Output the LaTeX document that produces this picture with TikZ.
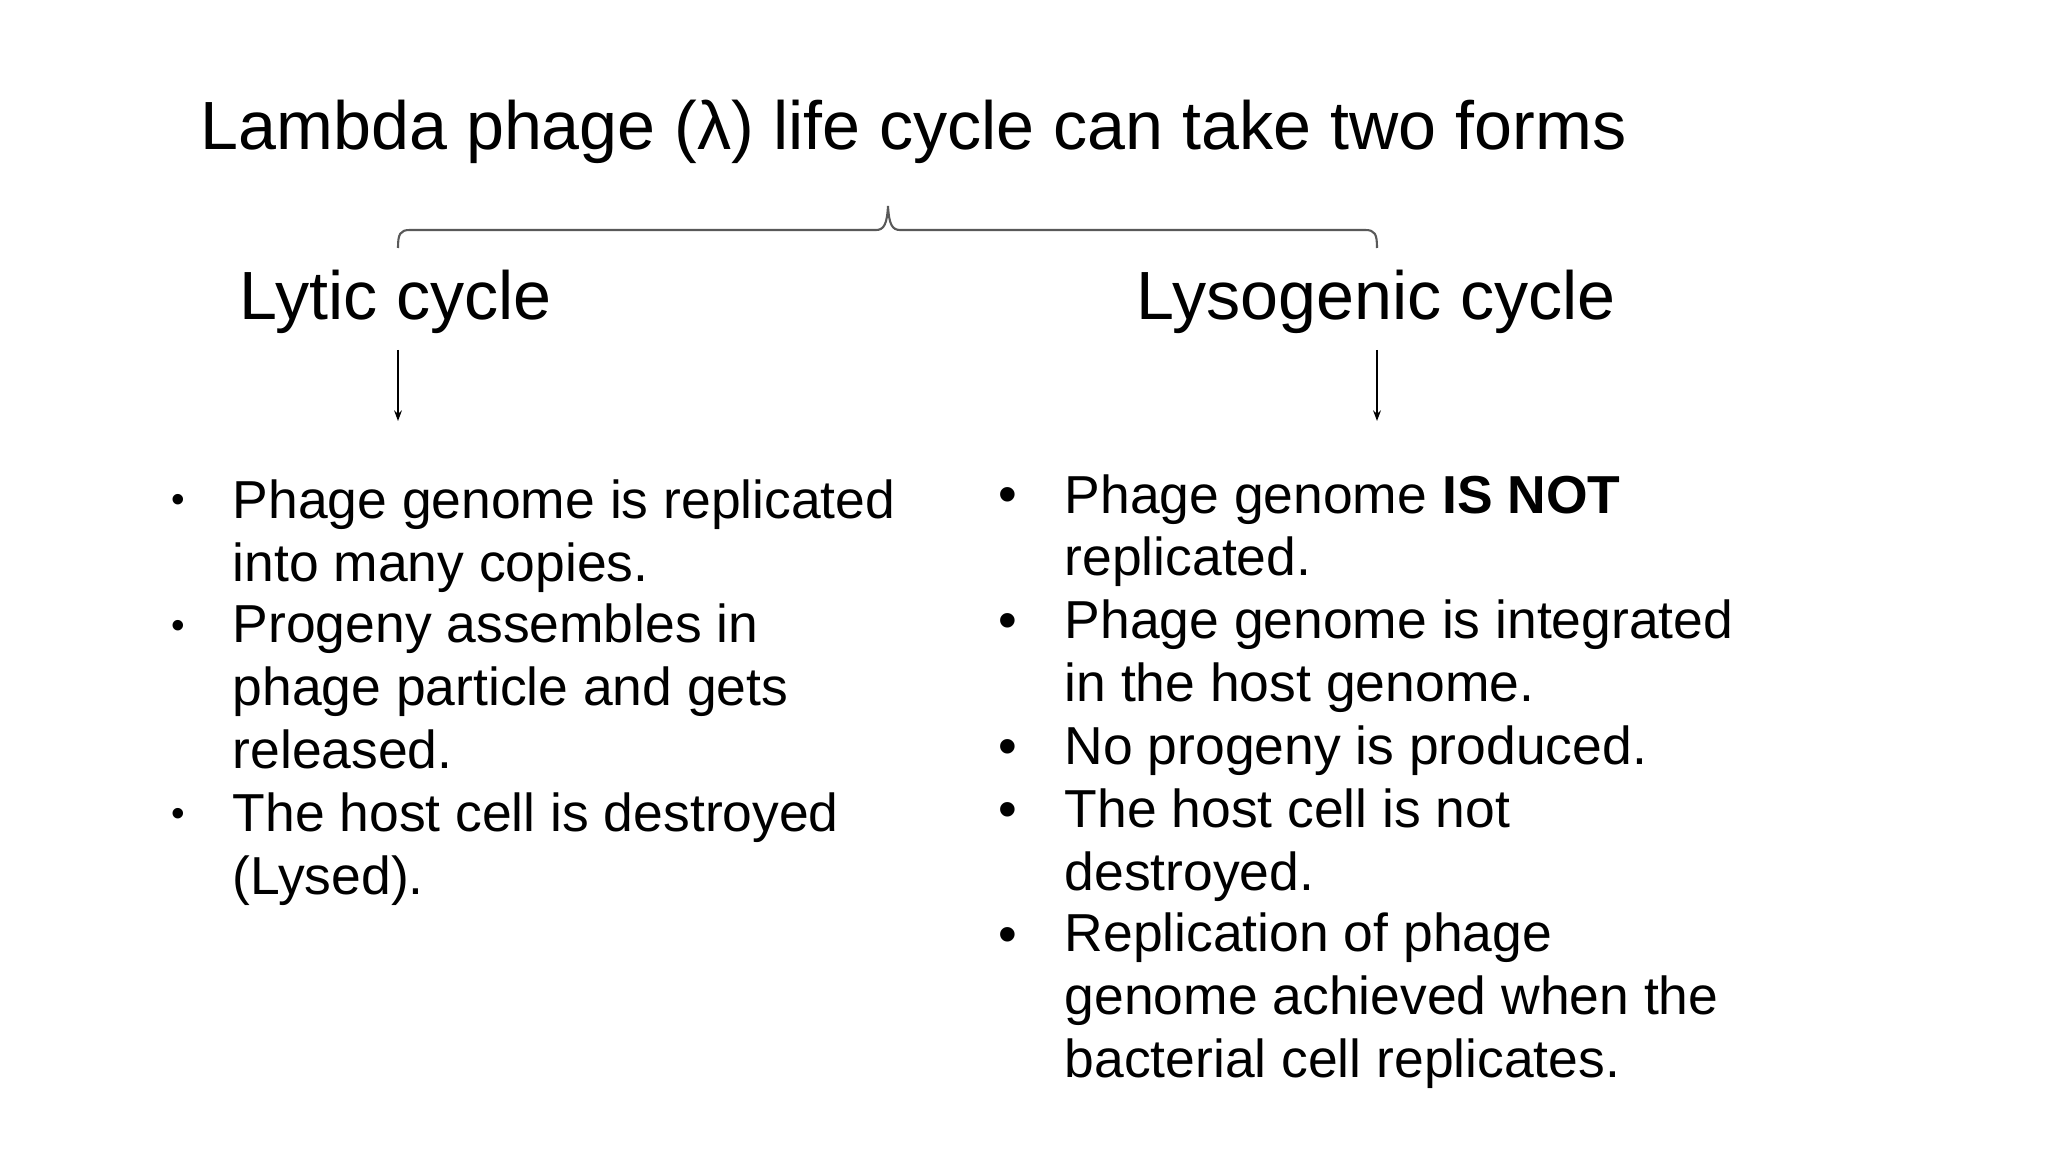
\documentclass[tikz,border=0pt]{standalone}
\usepackage{fontspec}
\setmainfont{Liberation Sans}
\usetikzlibrary{positioning, arrows.meta}

\begin{document}
\begin{tikzpicture}[
    x=0.01cm, y=-0.01cm,
    heading/.style={font=\fontsize{19.4}{23}\selectfont, anchor=base west, inner sep=0pt},
    point/.style={font=\fontsize{15.2}{17.84}\selectfont, align=left, anchor=base west, inner sep=0pt},
    dot/.style={font=\fontsize{15.2}{17.84}\selectfont, anchor=base, inner sep=0pt},
    smalldot/.style={font=\fontsize{11}{13}\selectfont, anchor=base, inner sep=0pt},
    down/.style={-{Stealth[length=3pt, width=2.2pt]}, line width=0.5pt},
    split/.style={black!65, line width=0.6pt}
]
\useasboundingbox (0,0) rectangle (2048,1152);

% headings
\node[heading] (title) at (200,150) {Lambda phage (λ) life cycle can take two forms};
\node[heading] (lytic) at (239,320) {Lytic cycle};
\node[heading] (lyso) at (1136,320) {Lysogenic cycle};

% brace and arrows
\coordinate (braceL) at (398,248);
\coordinate (braceR) at (1377,248);
\draw[split] (braceL) .. controls (398,234) and (400,230) .. (410,230) -- (876,230)
    .. controls (884,230) and (887,224) .. (888,206)
    .. controls (889,224) and (892,230) .. (900,230) -- (1365,230)
    .. controls (1375,230) and (1377,234) .. (braceR);

\coordinate (lytA) at (398,350);
\coordinate (lytB) at (398,421);
\coordinate (lysA) at (1377,350);
\coordinate (lysB) at (1377,421);
\draw[down] (lytA) -- (lytB);
\draw[down] (lysA) -- (lysB);

% lytic list (nodes sit on the baseline of their last line)
\node[smalldot] (lb1) at (178,513) {•};
\node[point] (l1) at (232,581) {Phage genome is replicated\\into many copies.};
\node[smalldot] (lb2) at (178,638) {•};
\node[point] (l2) at (232,768) {Progeny assembles in\\phage particle and gets\\released.};
\node[smalldot] (lb3) at (178,826) {•};
\node[point] (l3) at (232,894) {The host cell is destroyed\\(Lysed).};

% lysogenic list
\node[dot] (rb1) at (1008,513) {•};
\node[point] (r1) at (1064,576) {Phage genome \textbf{IS NOT}\\replicated.};
\node[dot] (rb2) at (1008,638) {•};
\node[point] (r2) at (1064,701) {Phage genome is integrated\\in the host genome.};
\node[dot] (rb3) at (1008,764) {•};
\node[point] (r3) at (1064,764) {No progeny is produced.};
\node[dot] (rb4) at (1008,827) {•};
\node[point] (r4) at (1064,890) {The host cell is not\\destroyed.};
\node[dot] (rb5) at (1008,952) {•};
\node[point] (r5) at (1064,1077) {Replication of phage\\genome achieved when the\\bacterial cell replicates.};

\end{tikzpicture}
\end{document}
